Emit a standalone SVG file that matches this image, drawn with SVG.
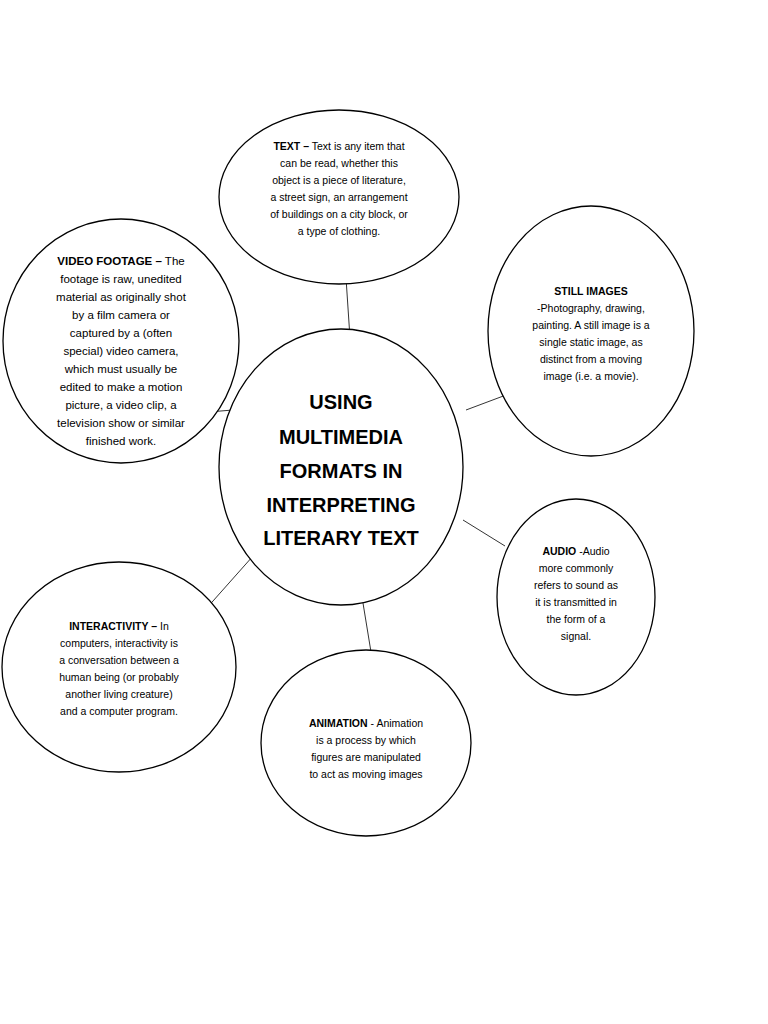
<svg xmlns="http://www.w3.org/2000/svg" width="768" height="1024" viewBox="0 0 768 1024">
<style>
ellipse{fill:#fff;stroke:#000;stroke-width:1.3}
text{font-family:"Liberation Sans",Arial,sans-serif;font-size:10.5px;text-anchor:middle;fill:#000}
.v{font-size:11.5px}
.t{font-size:20px;font-weight:bold}
line{stroke:#000;stroke-width:0.8}
</style>
<rect width="768" height="1024" fill="#fff"/>
<g id="connectors">
<line x1="346" y1="278" x2="350" y2="338"/>
<line x1="466" y1="410" x2="506" y2="395"/>
<line x1="196" y1="413" x2="233" y2="410"/>
<line x1="463" y1="520" x2="505" y2="546"/>
<line x1="205" y1="610" x2="253" y2="556"/>
<line x1="362" y1="597" x2="371" y2="652"/>
</g>
<g id="text-node"><ellipse cx="339" cy="197" rx="120" ry="87"/>
<text x="339" y="150"><tspan font-weight="bold">TEXT –</tspan> Text is any item that</text>
<text x="339" y="167">can be read, whether this</text>
<text x="339" y="184">object is a piece of literature,</text>
<text x="339" y="201">a street sign, an arrangement</text>
<text x="339" y="218">of buildings on a city block, or</text>
<text x="339" y="235">a type of clothing.</text></g>
<g id="still"><ellipse cx="591" cy="331" rx="103" ry="125"/>
<text x="591" y="295" font-weight="bold">STILL IMAGES</text>
<text x="591" y="312">-Photography, drawing,</text>
<text x="591" y="329">painting. A still image is a</text>
<text x="591" y="346">single static image, as</text>
<text x="591" y="363">distinct from a moving</text>
<text x="591" y="380">image (i.e. a movie).</text></g>
<g id="video"><ellipse cx="121" cy="341" rx="118" ry="122"/>
<text class="v" x="121" y="265"><tspan font-weight="bold">VIDEO FOOTAGE –</tspan> The</text>
<text class="v" x="121" y="283">footage is raw, unedited</text>
<text class="v" x="121" y="301">material as originally shot</text>
<text class="v" x="121" y="319">by a film camera or</text>
<text class="v" x="121" y="337">captured by a (often</text>
<text class="v" x="121" y="355">special) video camera,</text>
<text class="v" x="121" y="373">which must usually be</text>
<text class="v" x="121" y="391">edited to make a motion</text>
<text class="v" x="121" y="409">picture, a video clip, a</text>
<text class="v" x="121" y="427">television show or similar</text>
<text class="v" x="121" y="445">finished work.</text></g>
<g id="center"><ellipse cx="341" cy="467" rx="122" ry="138"/>
<text class="t" x="341" y="409">USING</text>
<text class="t" x="341" y="444">MULTIMEDIA</text>
<text class="t" x="341" y="478">FORMATS IN</text>
<text class="t" x="341" y="512">INTERPRETING</text>
<text class="t" x="341" y="545">LITERARY TEXT</text></g>
<g id="audio"><ellipse cx="576" cy="597" rx="79" ry="98"/>
<text x="576" y="555"><tspan font-weight="bold">AUDIO</tspan> -Audio</text>
<text x="576" y="572">more commonly</text>
<text x="576" y="589">refers to sound as</text>
<text x="576" y="606">it is transmitted in</text>
<text x="576" y="623">the form of a</text>
<text x="576" y="640">signal.</text></g>
<g id="interactivity"><ellipse cx="119" cy="667" rx="117" ry="105"/>
<text x="119" y="630"><tspan font-weight="bold">INTERACTIVITY –</tspan> In</text>
<text x="119" y="647">computers, interactivity is</text>
<text x="119" y="664">a conversation between a</text>
<text x="119" y="681">human being (or probably</text>
<text x="119" y="698">another living creature)</text>
<text x="119" y="715">and a computer program.</text></g>
<g id="animation"><ellipse cx="366" cy="743" rx="105" ry="93"/>
<text x="366" y="727"><tspan font-weight="bold">ANIMATION</tspan> - Animation</text>
<text x="366" y="744">is a process by which</text>
<text x="366" y="761">figures are manipulated</text>
<text x="366" y="778">to act as moving images</text></g>
</svg>
